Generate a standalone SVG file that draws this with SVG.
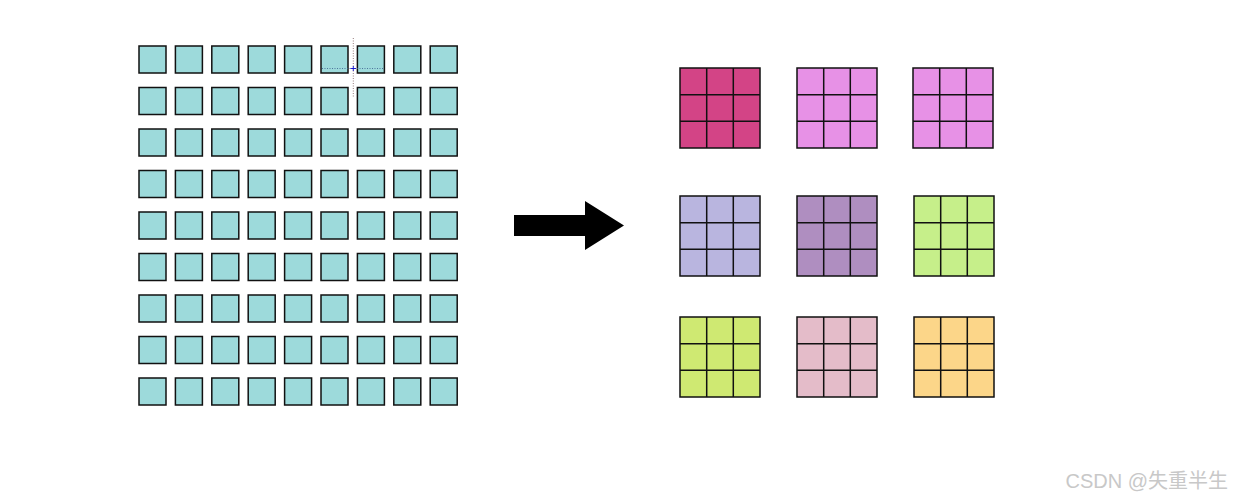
<svg xmlns="http://www.w3.org/2000/svg" width="1233" height="499" viewBox="0 0 1233 499">
<style>
.s{fill:#9ddadb;stroke:#111;stroke-width:1.5}
.g{stroke:#111;stroke-width:1.5}
</style>
<defs>
<g id="grid"><rect x="0" y="0" width="80" height="80"/><path d="M26.7 0V80M53.3 0V80M0 26.7H80M0 53.3H80" fill="none"/></g>
<g id="row"><rect class="s" x="0" y="0" width="27" height="27"/><rect class="s" x="36.4" y="0" width="27" height="27"/><rect class="s" x="72.8" y="0" width="27" height="27"/><rect class="s" x="109.2" y="0" width="27" height="27"/><rect class="s" x="145.6" y="0" width="27" height="27"/><rect class="s" x="182" y="0" width="27" height="27"/><rect class="s" x="218.4" y="0" width="27" height="27"/><rect class="s" x="254.8" y="0" width="27" height="27"/><rect class="s" x="291.2" y="0" width="27" height="27"/></g>
</defs>
<rect width="1233" height="499" fill="#fff"/>
<g id="input-grid">
<use href="#row" x="139" y="46"/><use href="#row" x="139" y="87.5"/><use href="#row" x="139" y="129"/><use href="#row" x="139" y="170.5"/><use href="#row" x="139" y="212"/><use href="#row" x="139" y="253.5"/><use href="#row" x="139" y="295"/><use href="#row" x="139" y="336.5"/><use href="#row" x="139" y="378"/>
</g>
<g id="guides" fill="none">
<path d="M353.3 38V98" stroke="#7a5a5a" stroke-width="0.8" stroke-dasharray="1,1.5"/>
<path d="M322 68.5H383" stroke="#3a5a8a" stroke-width="0.8" stroke-dasharray="1,1.5"/>
<path d="M350.5 68.5H356M353.3 66V71" stroke="#1010d0" stroke-width="0.9"/>
</g>
<g id="connectors"><polygon points="514,215 585,215 585,201 624,225.5 585,250 585,236 514,236" fill="#000"/></g>
<g id="blocks" class="g">
<use href="#grid" x="680" y="68" fill="#d34486"/>
<use href="#grid" x="797" y="68" fill="#e791e6"/>
<use href="#grid" x="913" y="68" fill="#e791e6"/>
<use href="#grid" x="680" y="196" fill="#b9b5df"/>
<use href="#grid" x="797" y="196" fill="#af8ec0"/>
<use href="#grid" x="914" y="196" fill="#c6ef8a"/>
<use href="#grid" x="680" y="317" fill="#cfe972"/>
<use href="#grid" x="797" y="317" fill="#e4bcc9"/>
<use href="#grid" x="914" y="317" fill="#fcd689"/>
</g>
<text x="1228" y="488" text-anchor="end" font-family="Liberation Sans, Noto Sans CJK SC, sans-serif" font-size="20" fill="#c8c8c8">CSDN @失重半生</text>
</svg>
